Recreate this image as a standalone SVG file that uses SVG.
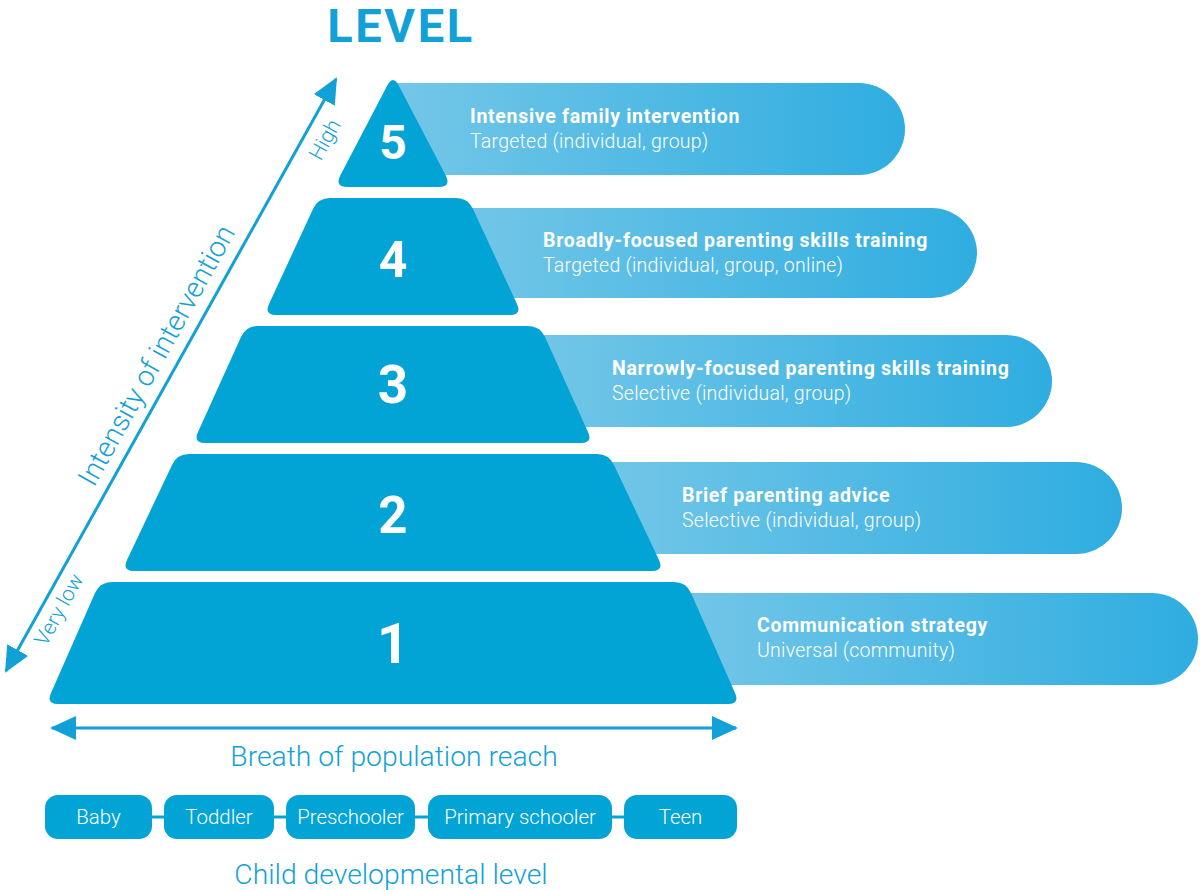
<svg xmlns="http://www.w3.org/2000/svg" width="1200" height="890" viewBox="0 0 1200 890">
<defs>
<linearGradient id="bandGrad" x1="0" y1="0" x2="1" y2="0">
<stop offset="0" stop-color="#74c7e8"/>
<stop offset="1" stop-color="#2fade0"/>
</linearGradient>
<marker id="arrowHead" markerUnits="userSpaceOnUse" viewBox="0 0 26 24" refX="24" refY="12" markerWidth="26" markerHeight="24" orient="auto-start-reverse">
<path d="M0,0 L26,12 L0,24 Z" fill="#12a1d6"/>
</marker>
<style>
.tier{fill:#02a4d6;}
.band{fill:url(#bandGrad);}
.num{font-family:Roboto,"Liberation Sans",sans-serif;font-weight:bold;fill:#ffffff;text-anchor:middle;}
.title{font-family:Roboto,"Liberation Sans",sans-serif;font-weight:bold;font-size:19.5px;letter-spacing:0.7px;fill:#ffffff;}
.sub{font-family:Roboto,"Liberation Sans",sans-serif;font-weight:300;font-size:19.5px;letter-spacing:0.25px;fill:#ffffff;}
.axis{font-family:Roboto,"Liberation Sans",sans-serif;font-weight:300;fill:#12a1d6;}
.pill{fill:#02a4d6;}
.pilltext{font-family:Roboto,"Liberation Sans",sans-serif;font-weight:300;font-size:20.4px;fill:#ffffff;text-anchor:middle;}
.conn{stroke:#12a1d6;stroke-width:3;fill:none;}
</style>
</defs>
<rect width="1200" height="890" fill="#ffffff"/>

<g id="heading">
<text x="401" y="42" font-family="Roboto,'Liberation Sans',sans-serif" font-weight="bold" font-size="47" letter-spacing="2.6" fill="#12a1d6" text-anchor="middle">LEVEL</text>
</g>

<g id="connectors">
<line class="conn" x1="6" y1="671" x2="336" y2="79" marker-start="url(#arrowHead)" marker-end="url(#arrowHead)"/>
<line class="conn" x1="52" y1="728" x2="736" y2="728" marker-start="url(#arrowHead)" marker-end="url(#arrowHead)"/>
<g stroke="#02a4d6" stroke-width="3">
<line x1="150" y1="817" x2="166" y2="817"/>
<line x1="272" y1="817" x2="288" y2="817"/>
<line x1="413" y1="817" x2="430" y2="817"/>
<line x1="610" y1="817" x2="626" y2="817"/>
</g>
</g>

<g id="axis-labels">
<text class="axis" font-size="28.5" text-anchor="middle" transform="translate(165,360) rotate(-61)">Intensity of intervention</text>
<text class="axis" font-size="21" text-anchor="middle" transform="translate(331,143) rotate(-61)">High</text>
<text class="axis" font-size="21" text-anchor="middle" transform="translate(65,613) rotate(-61)">Very low</text>
<text class="axis" font-size="28.3" x="394" y="766" text-anchor="middle">Breath of population reach</text>
<text class="axis" font-size="28.3" x="391" y="884" text-anchor="middle">Child developmental level</text>
</g>

<g id="level5">
<path class="band" d="M395,83 L859,83 A46,46 0 0 1 859,175 L395,175 Z"/>
<path class="tier" d="M399,86 L446,176 Q451,187 439,187 L347,187 Q335,187 340,176 L387,86 Q393,74 399,86 Z"/>
<text class="num" x="393" y="159" font-size="48">5</text>
<text class="title" x="470" y="123">Intensive family intervention</text>
<text class="sub" x="470" y="148">Targeted (individual, group)</text>
</g>

<g id="level4">
<path class="band" d="M450,208 L932,208 A45,45 0 0 1 932,298 L450,298 Z"/>
<path class="tier" d="M330,198 L456,198 Q468,198 473,209 L517,304 Q522,315 510,315 L276,315 Q264,315 269,304 L313,209 Q318,198 330,198 Z"/>
<text class="num" x="393" y="277" font-size="50">4</text>
<text class="title" x="543" y="247">Broadly-focused parenting skills training</text>
<text class="sub" x="543" y="272">Targeted (individual, group, online)</text>
</g>

<g id="level3">
<path class="band" d="M520,335 L1006,335 A46,46 0 0 1 1006,427 L520,427 Z"/>
<path class="tier" d="M258,326 L528,326 Q540,326 545,337 L588,432 Q593,443 581,443 L205,443 Q193,443 198,432 L241,337 Q246,326 258,326 Z"/>
<text class="num" x="393" y="403" font-size="53">3</text>
<text class="title" x="612" y="375">Narrowly-focused parenting skills training</text>
<text class="sub" x="612" y="400">Selective (individual, group)</text>
</g>

<g id="level2">
<path class="band" d="M590,462 L1076,462 A46,46 0 0 1 1076,554 L590,554 Z"/>
<path class="tier" d="M189,454 L597,454 Q609,454 614,465 L659,560 Q664,571 652,571 L134,571 Q122,571 127,560 L172,465 Q177,454 189,454 Z"/>
<text class="num" x="393" y="533" font-size="51">2</text>
<text class="title" x="682" y="502">Brief parenting advice</text>
<text class="sub" x="682" y="527">Selective (individual, group)</text>
</g>

<g id="level1">
<path class="band" d="M670,593 L1152,593 A46,46 0 0 1 1152,685 L670,685 Z"/>
<path class="tier" d="M112,582 L674,582 Q686,582 691,593 L735,693 Q740,704 728,704 L58,704 Q46,704 51,693 L95,593 Q100,582 112,582 Z"/>
<text class="num" x="393" y="663" font-size="56">1</text>
<text class="title" x="757" y="632">Communication strategy</text>
<text class="sub" x="757" y="657">Universal (community)</text>
</g>

<g id="stage-baby"><rect class="pill" x="45" y="795" width="107" height="44" rx="13"/><text class="pilltext" x="98.5" y="824">Baby</text></g>
<g id="stage-toddler"><rect class="pill" x="164" y="795" width="110" height="44" rx="13"/><text class="pilltext" x="219" y="824">Toddler</text></g>
<g id="stage-preschooler"><rect class="pill" x="286" y="795" width="129" height="44" rx="13"/><text class="pilltext" x="350.5" y="824">Preschooler</text></g>
<g id="stage-primary"><rect class="pill" x="428" y="795" width="184" height="44" rx="13"/><text class="pilltext" x="520" y="824">Primary schooler</text></g>
<g id="stage-teen"><rect class="pill" x="624" y="795" width="113" height="44" rx="13"/><text class="pilltext" x="680.5" y="824">Teen</text></g>
</svg>
